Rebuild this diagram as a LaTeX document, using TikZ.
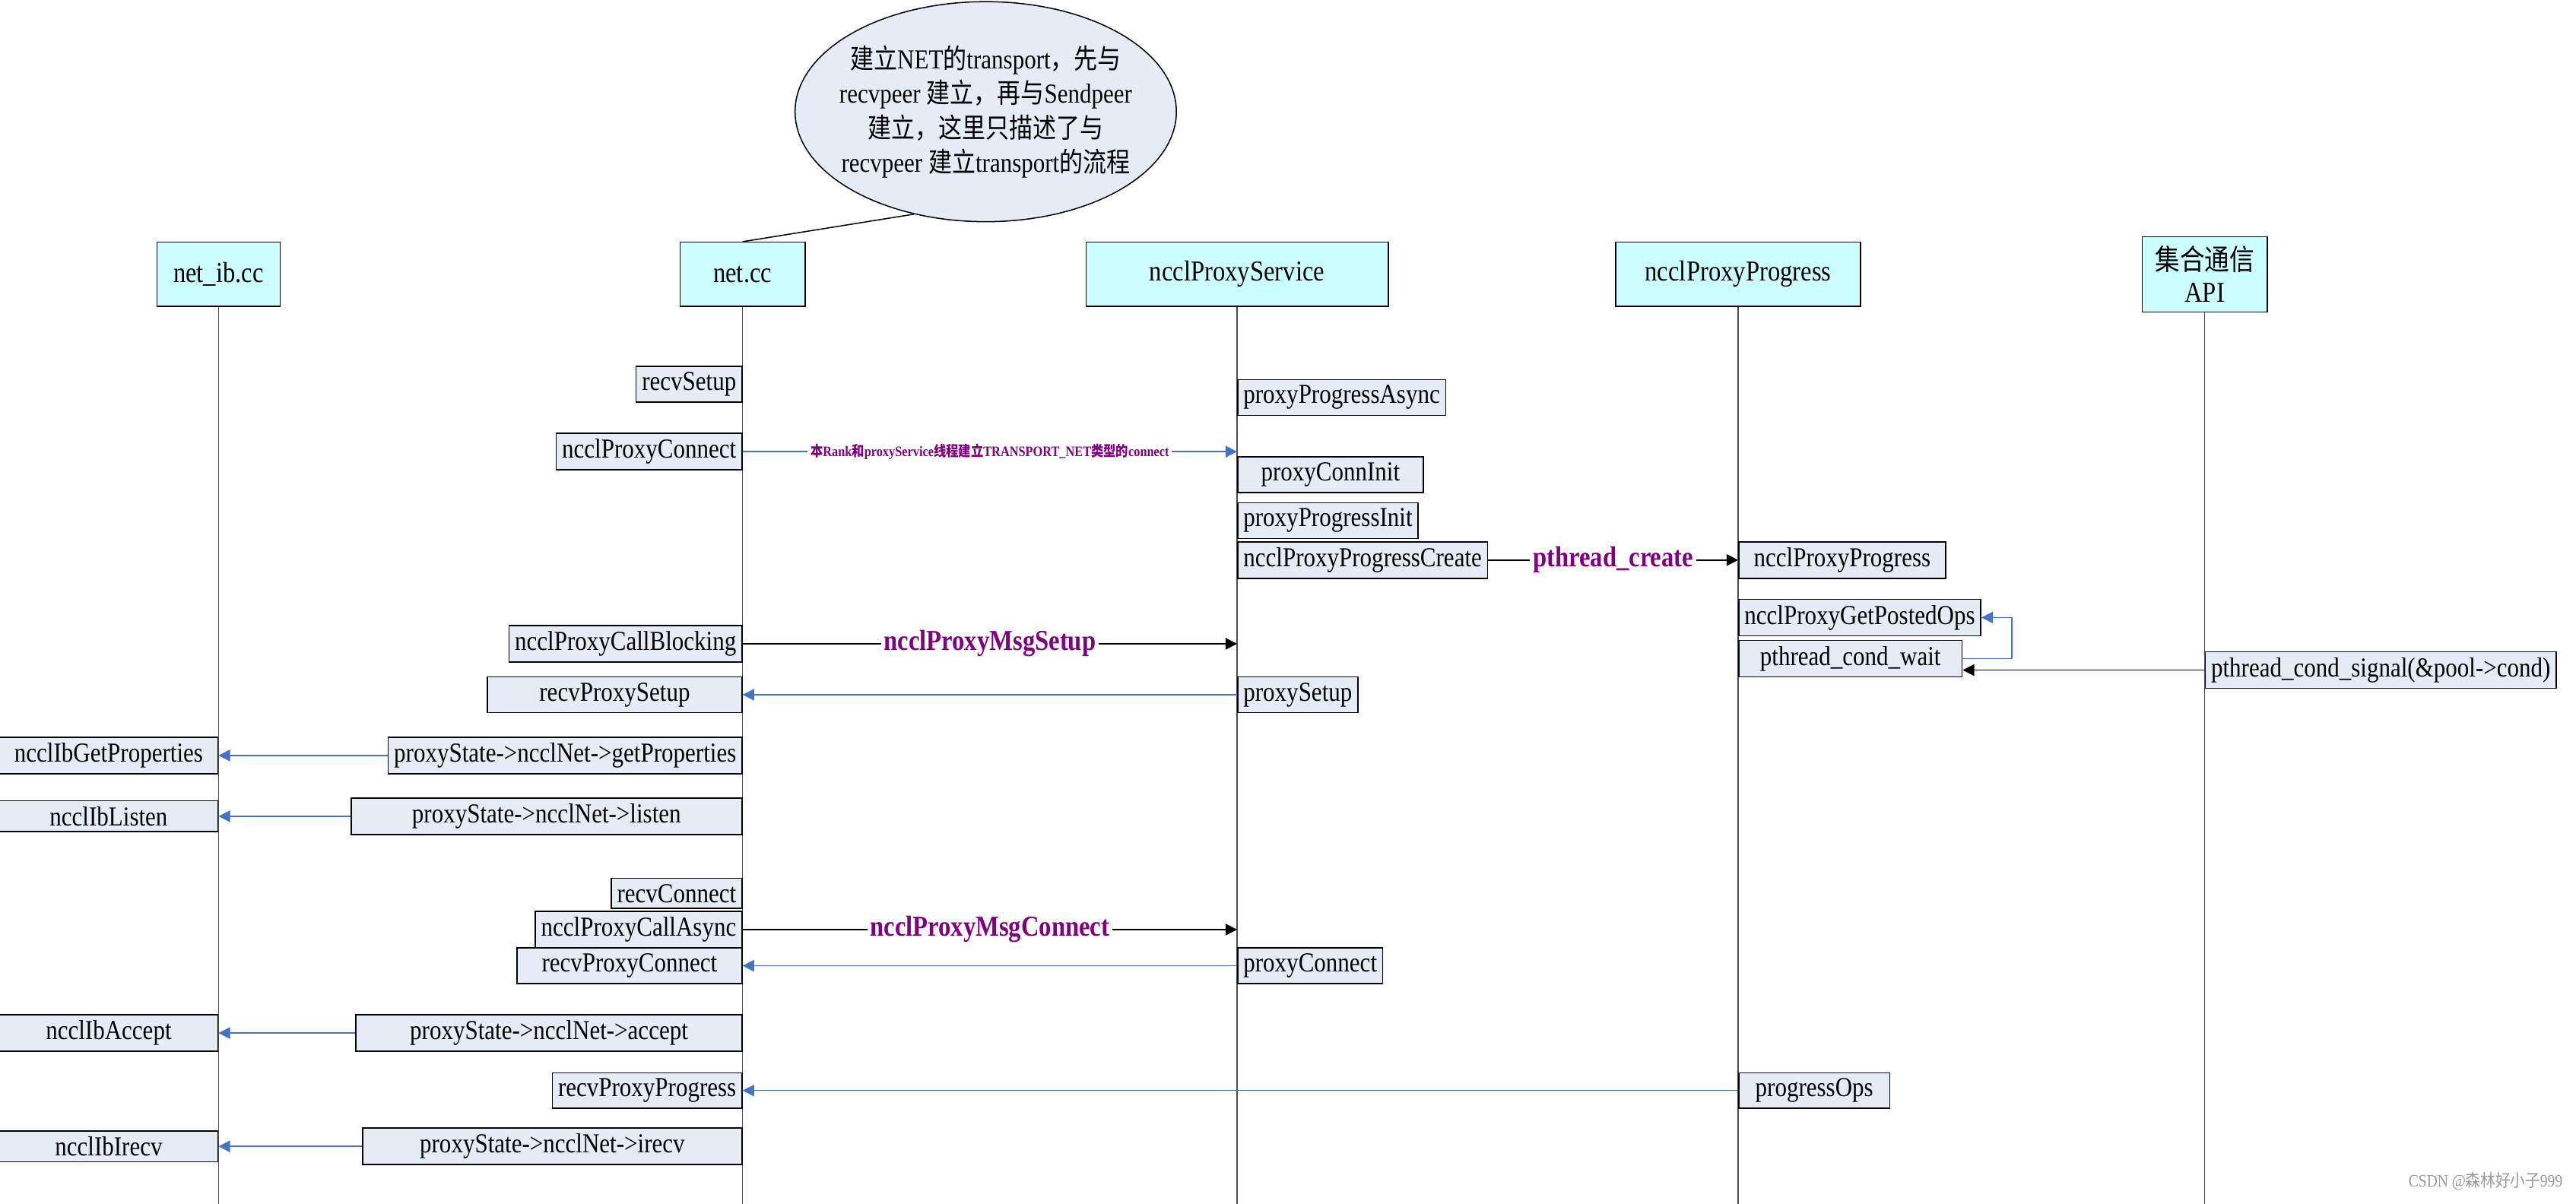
\documentclass[tikz,border=0pt]{standalone}
\usepackage{fontspec}
\setmainfont{Liberation Serif}[FakeStretch=0.86]
\newfontfamily\cjk{Noto Sans CJK SC}[FakeStretch=0.86]
\usetikzlibrary{shapes.geometric,arrows.meta}
\definecolor{hdrfill}{HTML}{CCFFFF}
\definecolor{opfill}{HTML}{E6ECF6}
\definecolor{msgblue}{HTML}{4472C4}
\definecolor{lblpurple}{HTML}{800080}

\begin{document}
\begin{tikzpicture}[x=0.02cm,y=-0.02cm,
  hdr/.style={draw, fill=hdrfill, minimum height=0.78cm, font=\fontsize{10}{11}\selectfont, align=center},
  op/.style={draw, fill=opfill, minimum height=0.34cm, inner sep=2pt, font=\fontsize{9.5}{10}\selectfont},
  ib/.style={op, minimum width=2.66cm},
  life/.style={draw=black!70},
  call/.style={-{Triangle[length=4pt,width=4pt]}},
  ret/.style={draw=msgblue, -{Triangle[length=4pt,width=4pt]}},
  lbl/.style={fill=white, inner sep=1pt, text=lblpurple, font=\bfseries\fontsize{10}{11}\selectfont}]
  \useasboundingbox (0,0) rectangle (1568,733);

  % lifeline heads
  \node[hdr, minimum width=1.5cm] (ib) at (133,167) {net\_ib.cc};
  \node[hdr, minimum width=1.52cm] (net) at (452,167) {net.cc};
  \node[hdr, minimum width=3.68cm] (svc) at (753,167) {ncclProxyService};
  \node[hdr, minimum width=2.98cm] (prog) at (1058,167) {ncclProxyProgress};
  \node[hdr, minimum width=1.52cm] (api) at (1342,167) {{\cjk 集合通信}\\API};
  \foreach \n/\x in {ib/133,net/452,svc/753,prog/1058,api/1342}
    \draw[life] (\n.south) -- (\x,733);

  % note
  \node[ellipse, draw, fill=opfill, minimum width=4.16cm, minimum height=2.68cm, align=center,
    inner sep=-4pt, font=\fontsize{9.5}{12}\selectfont] (note) at (600,68)
    {{\cjk 建立}NET{\cjk 的}transport{\cjk ，先与}\\recvpeer {\cjk 建立，再与}Sendpeer\\{\cjk 建立，这里只描述了与}\\recvpeer {\cjk 建立}transport{\cjk 的流程}};
  \draw (net.north) -- (note.235);

  % net.cc
  \node[op, anchor=east] (recvSetup) at (452,234) {recvSetup};
  \node[op, anchor=east] (proxyConnect) at (452,275) {ncclProxyConnect};
  \node[op, anchor=east] (callBlocking) at (452,392) {ncclProxyCallBlocking};
  \node[op, anchor=east, minimum width=3.1cm] (recvProxySetup) at (452,423) {recvProxySetup};
  \node[op, anchor=east] (getProps) at (452,460) {proxyState->ncclNet->getProperties};
  \node[op, anchor=east, minimum width=4.76cm] (listen) at (452,497) {proxyState->ncclNet->listen};
  \node[op, anchor=east] (recvConnect) at (452,544) {recvConnect};
  \node[op, anchor=east] (callAsync) at (452,566) {ncclProxyCallAsync};
  \node[op, anchor=east, minimum width=2.74cm] (recvProxyConnect) at (452,588) {recvProxyConnect};
  \node[op, anchor=east, minimum width=4.7cm] (accept) at (452,629) {proxyState->ncclNet->accept};
  \node[op, anchor=east] (recvProxyProgress) at (452,664) {recvProxyProgress};
  \node[op, anchor=east, minimum width=4.62cm] (irecv) at (452,698) {proxyState->ncclNet->irecv};

  % net_ib.cc
  \node[ib, anchor=east] (ibGetProps) at (133,460) {ncclIbGetProperties};
  \node[ib, anchor=east] (ibListen) at (133,497) {ncclIbListen};
  \node[ib, anchor=east] (ibAccept) at (133,629) {ncclIbAccept};
  \node[ib, anchor=east] (ibIrecv) at (133,698) {ncclIbIrecv};

  % ncclProxyService
  \node[op, anchor=west] (progAsync) at (753,242) {proxyProgressAsync};
  \node[op, anchor=west, minimum width=2.26cm] (connInit) at (753,289) {proxyConnInit};
  \node[op, anchor=west] (progInit) at (753,317) {proxyProgressInit};
  \node[op, anchor=west] (progCreate) at (753,341) {ncclProxyProgressCreate};
  \node[op, anchor=west] (proxySetup) at (753,423) {proxySetup};
  \node[op, anchor=west] (proxyConn) at (753,588) {proxyConnect};

  % ncclProxyProgress
  \node[op, anchor=west, minimum width=2.52cm] (progress) at (1058,341) {ncclProxyProgress};
  \node[op, anchor=west] (posted) at (1058,376) {ncclProxyGetPostedOps};
  \node[op, anchor=west, minimum width=2.72cm] (condWait) at (1058,401) {pthread\_cond\_wait};
  \node[op, anchor=west, minimum width=1.84cm] (progOps) at (1058,664) {progressOps};

  % API
  \node[op, anchor=west] (condSignal) at (1342,408) {pthread\_cond\_signal(\&pool->cond)};

  % messages
  \draw[ret] (proxyConnect.east) -- node[lbl, font=\bfseries\fontsize{5}{6}\selectfont]
    {{\cjk 本}Rank{\cjk 和}proxyService{\cjk 线程建立}TRANSPORT\_NET{\cjk 类型的}connect} (753,275);
  \draw[call] (progCreate.east) -- node[lbl] {pthread\_create} (progress.west);
  \draw[call] (callBlocking.east) -- node[lbl] {ncclProxyMsgSetup} (753,392);
  \draw[ret] (proxySetup.west) -- (recvProxySetup.east);
  \draw[ret] (getProps.west) -- (ibGetProps.east);
  \draw[ret] (listen.west) -- (ibListen.east);
  \draw[call] (callAsync.east) -- node[lbl] {ncclProxyMsgConnect} (753,566);
  \draw[ret] (proxyConn.west) -- (recvProxyConnect.east);
  \draw[ret] (accept.west) -- (ibAccept.east);
  \draw[ret] (progOps.west) -- (recvProxyProgress.east);
  \draw[ret] (irecv.west) -- (ibIrecv.east);
  \draw[call] (condSignal.west) -- (condWait.east |- condSignal.west);
  \draw[ret] (condWait.east) -- ++(30,0) |- (posted.east);

  \node[anchor=south east, text=black!40, font=\fontsize{6}{7}\selectfont] (mark) at (1566,731) {CSDN @{\cjk 森林好小子}999};
\end{tikzpicture}
\end{document}
